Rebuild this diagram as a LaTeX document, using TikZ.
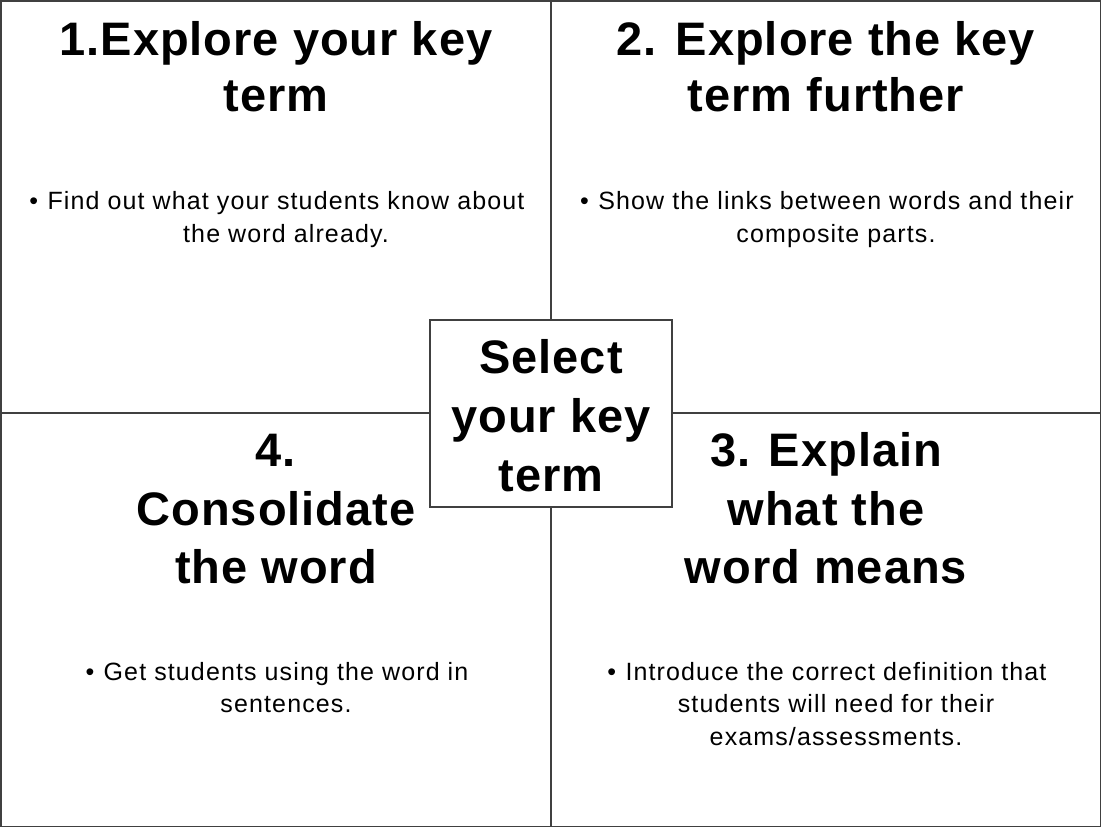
\documentclass[tikz,border=0pt]{standalone}
\usepackage{fontspec}
\setmainfont{Liberation Sans}
\newfontfamily\ttlfont[LetterSpace=2.1]{Liberation Sans}
\newfontfamily\txtfont[LetterSpace=4.5]{Liberation Sans}
\definecolor{linegray}{HTML}{404040}
\begin{document}
\begin{tikzpicture}[x=1pt,y=-1pt,
  frame/.style={draw=linegray, line width=1.5pt, fill=white, inner sep=0pt, outer sep=0pt},
  ttl/.style={font=\fontsize{47}{55}\ttlfont\bfseries, anchor=base, inner sep=0pt},
  txt/.style={font=\fontsize{25}{33}\txtfont, anchor=base, inner sep=0pt},
  bul/.style={font=\fontsize{25}{33}\txtfont, anchor=base east, inner sep=0pt}]
\useasboundingbox (0,0) rectangle (1101,827);
\fill[white] (0,0) rectangle (1101,827);
% quadrants
\node[frame, anchor=north west, minimum width=550.25pt, minimum height=412.25pt] (q1) at (0.75,0.75) {};
\node[frame, anchor=north west, minimum width=549.25pt, minimum height=412.25pt] (q2) at (551,0.75) {};
\node[frame, anchor=north west, minimum width=549.25pt, minimum height=413.25pt] (q3) at (551,413) {};
\node[frame, anchor=north west, minimum width=550.25pt, minimum height=413.25pt] (q4) at (0.75,413) {};
% centre box
\node[frame, minimum width=242pt, minimum height=187pt] (c) at (551,413.5) {};
\node[ttl] (c1) at (551,373) {Select};
\node[ttl] (c2) at (551,432) {your key};
\node[ttl] (c3) at (551,491) {term};
% titles
\node[ttl] (t1a) at (276,55) {1.Explore your key};
\node[ttl] (t1b) at (276,111) {term};
\node[ttl] (t2a) at (826,55) {2. Explore the key};
\node[ttl] (t2b) at (826,111) {term further};
\node[ttl] (t4a) at (276,466) {4.};
\node[ttl] (t4b) at (276,525) {Consolidate};
\node[ttl] (t4c) at (276,583) {the word};
\node[ttl] (t3a) at (826,466) {3. Explain};
\node[ttl] (t3b) at (826,525) {what the};
\node[ttl] (t3c) at (826,583) {word means};
% bullet texts
\node[txt] (b1a) at (286,209) {Find out what your students know about};
\node[txt] (b1b) at (286,242) {the word already.};
\node[bul] (d1) at ([xshift=-9pt]b1a.base west) {•};
\node[txt] (b2a) at (836,209) {Show the links between words and their};
\node[txt] (b2b) at (836,242) {composite parts.};
\node[bul] (d2) at ([xshift=-9pt]b2a.base west) {•};
\node[txt] (b4a) at (286,680) {Get students using the word in};
\node[txt] (b4b) at (286,712) {sentences.};
\node[bul] (d4) at ([xshift=-9pt]b4a.base west) {•};
\node[txt] (b3a) at (836,680) {Introduce the correct definition that};
\node[txt] (b3b) at (836,712) {students will need for their};
\node[txt] (b3c) at (836,745) {exams/assessments.};
\node[bul] (d3) at ([xshift=-9pt]b3a.base west) {•};
\end{tikzpicture}
\end{document}
